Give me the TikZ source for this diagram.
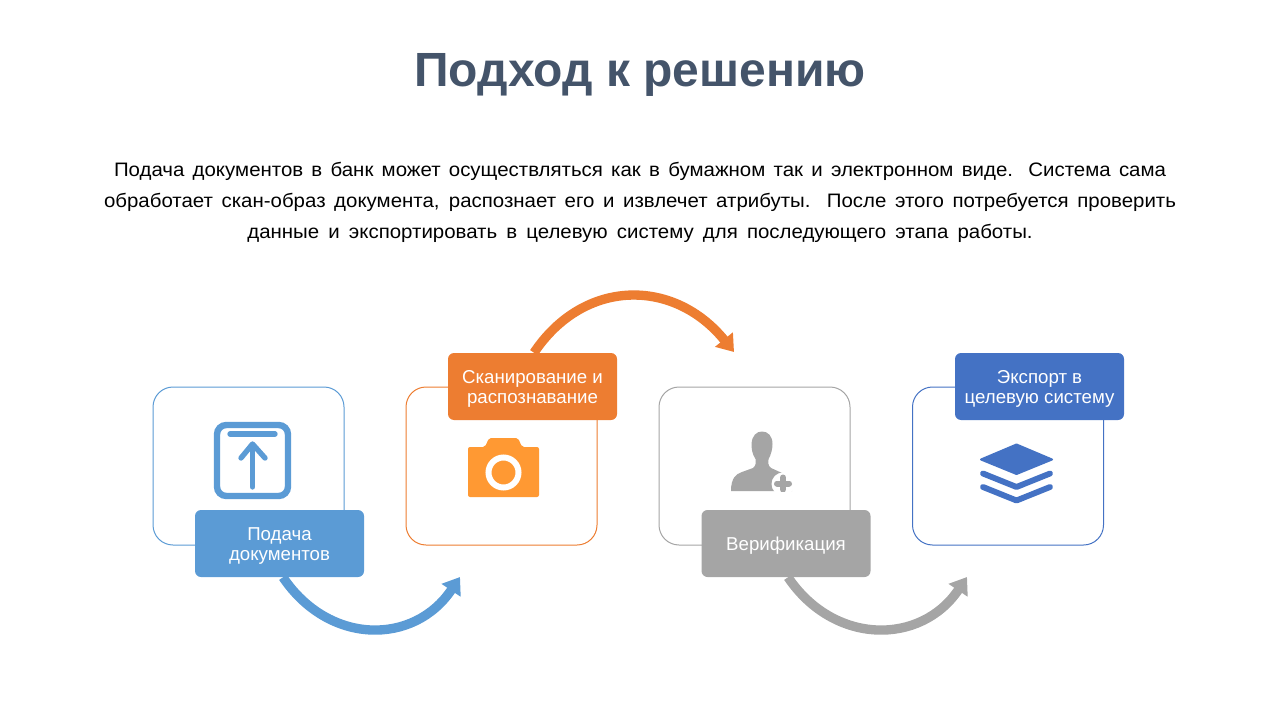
\documentclass[tikz,border=0pt]{standalone}
\usepackage{fontspec}
\setmainfont{Liberation Sans}
\newfontfamily\introfont[FakeStretch=1.05]{Liberation Sans}
\usetikzlibrary{arrows.meta}
\definecolor{cblue}{HTML}{5B9BD5}
\definecolor{corange}{HTML}{ED7D31}
\definecolor{ccamera}{HTML}{FF9933}
\definecolor{cgray}{HTML}{A5A5A5}
\definecolor{cdark}{HTML}{4472C4}
\definecolor{ctitle}{HTML}{44546A}
\tikzset{
  panel/.style={draw=#1,fill=white,line width=0.75pt,rounded corners=15pt,minimum width=143.25pt,minimum height=118.5pt,inner sep=0pt},
  tag/.style={fill=#1,text=white,rounded corners=4.5pt,minimum width=126.75pt,minimum height=50.25pt,inner sep=0pt,align=center,font=\fontsize{14}{15.5}\selectfont,text height=29pt,text depth=3pt},
  bend arrow/.style={draw=#1,line width=7pt,-{Triangle[length=12pt,width=16.5pt,fill=#1]}}
}
\begin{document}
\begin{tikzpicture}[x=0.75pt,y=-0.75pt]
\useasboundingbox (0,0) rectangle (1280,720);

\node[text=ctitle,font=\fontsize{36}{42}\selectfont\bfseries] (title) at (640,75) {Подход к решению};
\node[align=center,font=\introfont\fontsize{14.6}{23.25}\selectfont] (intro) at (640,202) {
\makebox[789pt][s]{Подача документов в банк может осуществляться как в бумажном так и электронном виде. Система сама}\\
\makebox[804pt][s]{обработает скан-образ документа, распознает его и извлечет атрибуты. После этого потребуется проверить}\\
\makebox[589pt][s]{данные и экспортировать в целевую систему для последующего этапа работы.}};

\node[panel=cblue] (pnlsubmit) at (248.5,466) {};
\node[panel=corange] (pnlscan) at (501.5,466) {};
\node[panel=cgray] (pnlverify) at (754.5,466) {};
\node[panel=cdark] (pnlexport) at (1008,466) {};

% upload icon
\draw[cblue,line width=4.8pt,rounded corners=7pt] (217,425) rectangle (288,496);
\draw[cblue,line width=4pt,line cap=round] (230,434) -- (275,434);
\draw[cblue,line width=4pt,line cap=round] (252.5,487) -- (252.5,445);
\draw[cblue,line width=4pt,line cap=round,line join=round] (241,458) -- (252.5,444) -- (265,458);

% camera icon
\fill[ccamera,rounded corners=1.5pt] (468,447) -- (485,447) -- (489,438) -- (518,438) -- (522,447) -- (539,447) -- (539,497) -- (468,497) -- cycle;
\draw[white,line width=4.5pt] (503.5,472.5) circle (15);

% person icon
\begin{scope}
\clip (725,425) rectangle (800,491);
\fill[cgray] (731,491) .. controls (731,478) and (736,474) .. (742,472) -- (753,468) .. controls (756,466) and (756,462) .. (755.5,459) .. controls (752,454) and (751.5,448) .. (751.5,444) .. controls (752,435) and (757,431.5) .. (762,431.5) .. controls (768,431.5) and (772.5,436) .. (772.5,444) .. controls (772.5,449) and (771,455) .. (768.5,459) .. controls (768,462) and (768,466) .. (771,468) -- (782,473) -- (792,491) -- cycle;
\fill[white] (783,484) circle (11.5);
\draw[cgray,line width=4.5pt,line cap=round] (783,477.5) -- (783,489.5);
\draw[cgray,line width=4.5pt,line cap=round] (777,483.5) -- (789,483.5);
\end{scope}

% layers icon
\fill[cdark,draw=cdark,line width=1.5pt,line join=round] (981,459.5) -- (1016.5,444.5) -- (1052,459.5) -- (1016.5,474) -- cycle;
\draw[cdark,line width=4.4pt,line cap=round,line join=round] (983,473.5) -- (1016.5,487) -- (1050,473.5);
\draw[cdark,line width=4.4pt,line cap=round,line join=round] (983,487) -- (1016.5,500.5) -- (1050,487);

\node[tag=cblue] (lblsubmit) at (279.5,543.5) {Подача\\документов};
\node[tag=corange] (lblscan) at (532.5,386.5) {Сканирование и\\распознавание};
\node[tag=cgray,text height=13pt] (lblverify) at (786,543.5) {Верификация};
\node[tag=cdark] (lblexport) at (1039.5,386.5) {Экспорт в\\целевую систему};

\coordinate (tipsubmit) at (460,577);
\coordinate (tipscan) at (734,352);
\coordinate (tipverify) at (967,577);

\draw[bend arrow=cblue] ([xshift=2.6pt]lblsubmit.south) .. controls (329,645.5) and (414,645.5) .. (tipsubmit);
\draw[bend arrow=corange] ([xshift=1.1pt]lblscan.north) .. controls (584,278) and (674,278) .. (tipscan);
\draw[bend arrow=cgray] ([xshift=1.5pt]lblverify.south) .. controls (834,645.5) and (921,645.5) .. (tipverify);
\end{tikzpicture}
\end{document}
